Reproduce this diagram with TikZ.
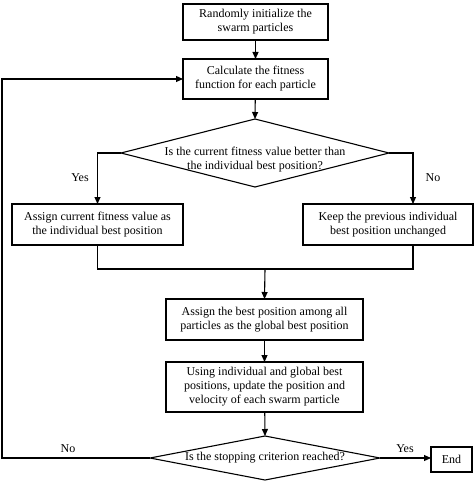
\documentclass[tikz,border=0pt]{standalone}
\usepackage{fontspec}
\setmainfont{Liberation Serif}
\usetikzlibrary{shapes.geometric,arrows.meta,calc}
\begin{document}
\begin{tikzpicture}[x=1pt,y=-1pt,
  every node/.style={font=\fontsize{12}{14}\selectfont},
  box/.style={draw,line width=1.1pt,align=center,inner sep=0pt,outer sep=0pt},
  dia/.style={draw,line width=1.1pt,diamond,inner sep=0pt,outer sep=0pt},
  txt/.style={align=center,inner sep=0pt},
  conn/.style={line width=1.1pt},
  arr/.style={conn,-{Triangle[length=7pt,width=6pt]}}]
\useasboundingbox (0,0) rectangle (474,481);
\node[box,minimum width=145pt,minimum height=36pt] (b1) at (255.5,22) {Randomly initialize the\\swarm particles};
\node[box,minimum width=145pt,minimum height=40pt] (b2) at (255.5,79) {Calculate the fitness\\function for each particle};
\node[dia,minimum width=268pt,minimum height=68pt] (d1) at (255,153) {};
\node[txt] (d1t) at (255,160) {Is the current fitness value better than\\the individual best position?};
\node[box,minimum width=171pt,minimum height=41pt] (bl) at (97.5,224.5) {Assign current fitness value as\\the individual best position};
\node[box,minimum width=170pt,minimum height=41pt] (br) at (388,224.5) {Keep the previous individual\\best position unchanged};
\node[box,minimum width=197pt,minimum height=41pt] (b3) at (264.5,319.5) {Assign the best position among all\\particles as the global best position};
\node[box,minimum width=197pt,minimum height=50pt] (b4) at (264.5,387) {Using individual and global best\\positions, update the position and\\velocity of each swarm particle};
\node[dia,minimum width=230pt,minimum height=44pt] (d2) at (265,458) {};
\node[txt] (d2t) at (265,458) {Is the stopping criterion reached?};
\node[box,minimum width=41pt,minimum height=25pt] (end) at (451.5,459.5) {End};
\node[txt] (yes1) at (80,178) {Yes};
\node[txt] (no1) at (433,178) {No};
\node[txt] (no2) at (68,449) {No};
\node[txt] (yes2) at (405,449) {Yes};
\coordinate (m) at (265,269);
\coordinate (fb) at (2,0);
\coordinate (rx) at (413,0);
\draw[arr] (b1) -- (b2);
\draw[arr] (b2) -- (d1.north);
\draw[arr] (d1.west) -| (bl.north);
\draw[arr] (d1.east) -| (br.north -| rx);
\draw[conn] (bl.south) |- (m);
\draw[conn] (br.south -| rx) |- (m);
\draw[arr] (m) -- (b3.north);
\draw[arr] (b3) -- (b4);
\draw[arr] (b4) -- (d2.north);
\draw[arr] (d2.west) -- (d2.west -| fb) |- (b2.west);
\draw[arr] (d2.east) -- (end.west |- d2.east);
\end{tikzpicture}
\end{document}
